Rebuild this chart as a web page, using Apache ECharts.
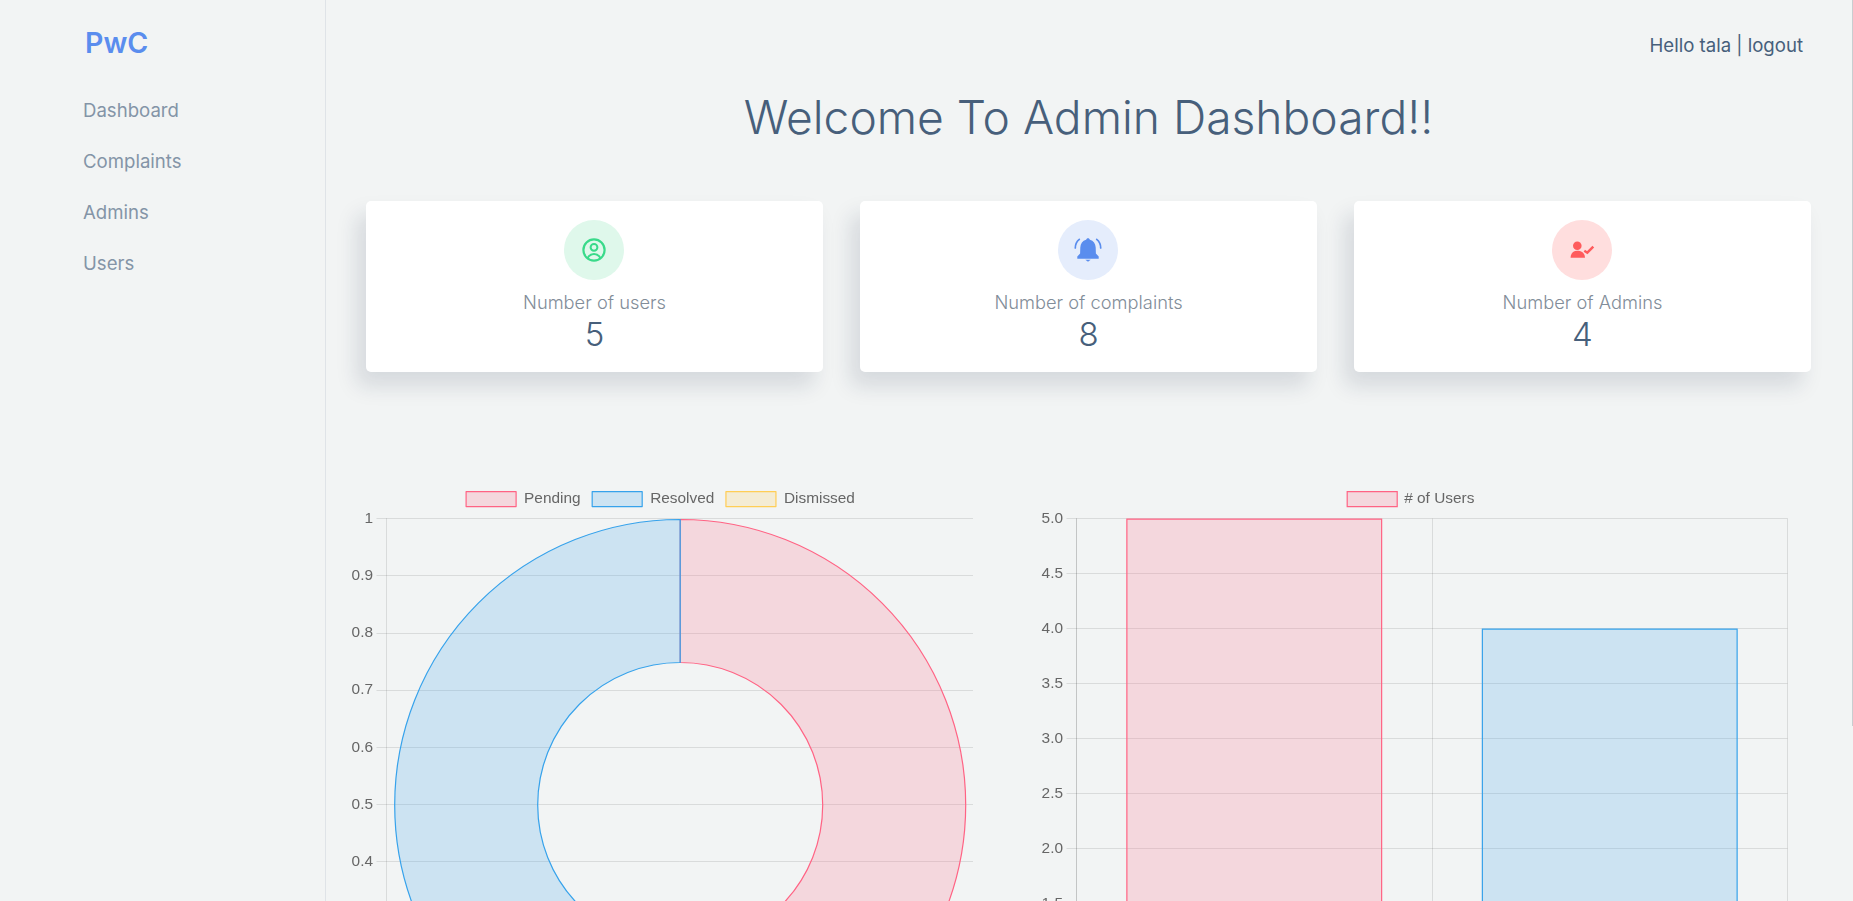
<!DOCTYPE html>
<html><head><meta charset="utf-8">
<style>
html,body{margin:0;padding:0;width:1853px;height:901px;overflow:hidden;background:#f2f4f4;font-family:Inter,"Noto Sans",sans-serif;}
.abs{position:absolute;white-space:nowrap;line-height:1}
#side{position:absolute;left:325px;top:0;width:1px;height:901px;background:#dfe3e7}
#brand{left:85px;top:29px;font-size:28.5px;font-weight:600;color:#5a8dee}
.nav{left:83px;font-size:18.6px;color:#8494a7;font-weight:400}
#hello{right:50px;top:36px;font-size:18.6px;color:#475f7b}
#title{left:326px;width:1527px;margin-left:-1px;text-align:center;top:94px;font-size:46.2px;font-weight:300;color:#475f7b}
.card{position:absolute;top:201px;width:457px;height:171px;background:#fff;border-radius:5px;box-shadow:-9px 14px 21px 0 rgba(25,42,70,.13)}
.dot{position:absolute;left:197.5px;top:19px;width:60px;height:60px;border-radius:50%}
.dot svg{position:absolute;left:15px;top:15px;width:30px;height:30px}
.lab{position:absolute;left:0;width:100%;top:92px;text-align:center;font-size:18.3px;color:#828d99;line-height:1;font-weight:300}
.num{position:absolute;left:0;width:100%;top:117px;text-align:center;font-size:33px;color:#475f7b;line-height:1;font-weight:300}
#chart{position:absolute;left:0;top:0;width:1853px;height:901px}
#thumb{position:absolute;left:1851.5px;top:0;width:1.5px;height:726px;background:#c9cdd0}
</style></head><body>
<div id="side"></div>
<div id="chrome"></div>
<div id="chart"></div>
<div id="thumb"></div>
<script src="https://cdn.jsdelivr.net/npm/echarts@6/dist/echarts.min.js"></script>
<script>
var navLabels=['Dashboard','Complaints','Admins','Users'];
var cardLabels=['Number of users','Number of complaints','Number of Admins'];
var cardValues=[5,8,4];
var statusNames=['Pending','Resolved','Dismissed'];
var statusValues=[4,4,0];
var userCategories=['Users','Admins'];
var userValues=[5,4];

var pinkLine='rgb(255,99,132)',pinkFill='rgba(255,99,132,0.2)';
var blueLine='rgb(54,162,235)',blueFill='rgba(54,162,235,0.2)';
var yelLine='rgb(255,206,86)',yelFill='rgba(255,206,86,0.2)';
var gridC='rgba(0,0,0,0.1)';
var chartFont='"Liberation Sans",Arial,sans-serif';
var chartFontSize=15.4;

var icons=[
 '<svg viewBox="0 0 30 30"><circle cx="15" cy="15" r="10.6" fill="none" stroke="#39da8a" stroke-width="2.2"/><circle cx="15" cy="12.3" r="3.4" fill="none" stroke="#39da8a" stroke-width="2"/><path d="M8.5 23.2c1.5-2.8 3.8-4.200 6.500-4.200s5 1.400 6.500 4.200" fill="none" stroke="#39da8a" stroke-width="2"/></svg>',
 '<svg viewBox="0 0 30 30"><path d="M15 3.300c1 0 1.600.7 1.900 1.500 3.600 1 5.600 4 5.800 7.700l.2 6 2.800 3v2.300H4.300v-2.300l2.800-3 .2-6c.2-3.700 2.200-6.700 5.800-7.700.3-.8.9-1.500 1.900-1.500z" fill="#5a8dee"/><path d="M12.300 24.700h5.400l-2.700 2z" fill="#5a8dee"/><path d="M6.300 4.300C3.500 6.500 2.300 9.800 2.300 13M23.700 4.300c2.800 2.200 4 5.500 4 8.700" fill="none" stroke="#5a8dee" stroke-width="1.700" stroke-linecap="round"/></svg>',
 '<svg viewBox="0 0 30 30"><circle cx="10.3" cy="10.7" r="4.3" fill="#ff5b5c"/><path d="M3.600 22.700c0-4.500 2.800-7 6.800-7s7.600 2.500 7.600 7z" fill="#ff5b5c"/><path d="M17.300 15.700l3 2 6-6" fill="none" stroke="#ff5b5c" stroke-width="2.500"/></svg>'];
var dotColors=['#dff8eb','#e5edfc','#ffdede'];
var cardLefts=[366,860,1354];

var html='<div id="brand" class="abs">PwC</div><div id="hello" class="abs">Hello tala | logout</div><div id="title" class="abs">Welcome To Admin Dashboard!!</div>';
navLabels.forEach(function(n,i){html+='<div class="abs nav" style="top:'+(101+51*i)+'px">'+n+'</div>';});
cardLabels.forEach(function(n,i){
 html+='<div class="card" style="left:'+cardLefts[i]+'px"><div class="dot" style="background:'+dotColors[i]+'">'+icons[i]+'</div><div class="lab">'+n+'</div><div class="num">'+cardValues[i]+'</div></div>';
});
document.getElementById('chrome').innerHTML=html;

var chart=echarts.init(document.getElementById('chart'),null,{renderer:'canvas'});
var pieStyles=[{color:pinkFill,borderColor:pinkLine,borderWidth:1.2},{color:blueFill,borderColor:blueLine,borderWidth:1.2},{color:yelFill,borderColor:yelLine,borderWidth:1.2}];
var barStyles=[pieStyles[0],pieStyles[1]];
var axisCommon={
 axisLine:{show:true,onZero:false,lineStyle:{color:gridC,width:1}},
 axisTick:{show:true,length:10,lineStyle:{color:gridC,width:1}},
 splitLine:{show:true,lineStyle:{color:gridC,width:1}}
};
chart.setOption({
 animation:false,
 backgroundColor:'transparent',
 textStyle:{fontFamily:chartFont},
 legend:[
  {left:465.5,top:491,padding:0,itemWidth:50,itemHeight:15,itemGap:11,selectedMode:false,
   textStyle:{color:'#666',fontSize:chartFontSize,fontFamily:chartFont,padding:[0,0,0,3]},
   data:statusNames.map(function(n,i){return {name:n,icon:'rect',itemStyle:pieStyles[i]};})},
  {left:1346.6,top:491,padding:0,itemWidth:50,itemHeight:15,selectedMode:false,
   textStyle:{color:'#666',fontSize:chartFontSize,fontFamily:chartFont,padding:[0,0,0,2]},
   data:[{name:'# of Users',icon:'rect',itemStyle:pieStyles[0]}]}
 ],
 grid:[
  {left:386.5,top:518.5,width:586.5,height:572,outerBoundsMode:'none'},
  {left:1076.5,top:518.5,width:711,height:550,outerBoundsMode:'none'}
 ],
 xAxis:[
  {gridIndex:0,type:'category',data:[],show:false},
  {gridIndex:1,type:'category',data:userCategories,boundaryGap:true,
   axisLine:axisCommon.axisLine,axisTick:axisCommon.axisTick,splitLine:axisCommon.splitLine,
   axisLabel:{color:'#666',fontSize:chartFontSize,fontFamily:chartFont}}
 ],
 yAxis:[
  {gridIndex:0,type:'value',min:0,max:1,interval:0.1,
   axisLine:axisCommon.axisLine,axisTick:axisCommon.axisTick,splitLine:axisCommon.splitLine,
   axisLabel:{color:'#666',fontSize:chartFontSize,fontFamily:chartFont,margin:13.5}},
  {gridIndex:1,type:'value',min:0,max:5,interval:0.5,
   axisLine:axisCommon.axisLine,axisTick:axisCommon.axisTick,splitLine:axisCommon.splitLine,
   axisLabel:{color:'#666',fontSize:chartFontSize,fontFamily:chartFont,margin:13.5,formatter:function(v){return v.toFixed(1);}}}
 ],
 series:[
  {type:'pie',center:[680.2,805],radius:[142.5,285.5],startAngle:90,clockwise:true,
   label:{show:false},labelLine:{show:false},silent:true,
   data:statusNames.map(function(n,i){return {name:n,value:statusValues[i],
     itemStyle:statusValues[i]===0?{color:yelFill,borderWidth:0}:pieStyles[i]};})},
  {type:'bar',name:'# of Users',xAxisIndex:1,yAxisIndex:1,barWidth:'72%',silent:true,
   itemStyle:pieStyles[0],
   data:userValues.map(function(v,i){return {value:v,itemStyle:barStyles[i]};})}
 ]
});
</script>
</body></html>
